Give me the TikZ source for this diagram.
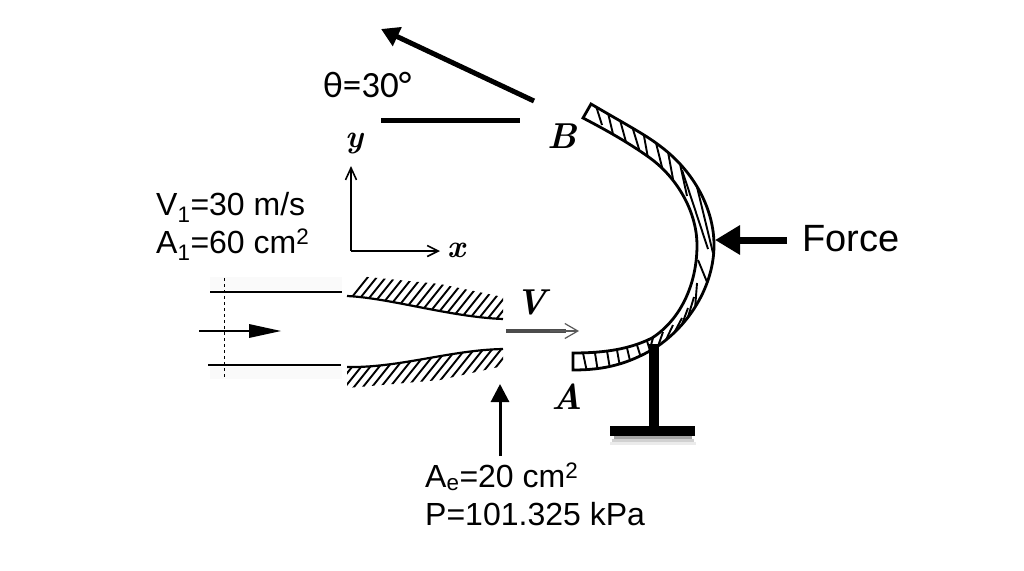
\documentclass[tikz,border=0pt]{standalone}
\usepackage{fontspec}
\setsansfont{Liberation Sans}
\newfontfamily\calfont{Carlito}
\usepackage{tikz}
\usetikzlibrary{arrows.meta}

\tikzset{
  given/.style={align=left,inner sep=0pt,anchor=west,font=\sffamily\fontsize{32}{38}\selectfont},
  letter/.style={inner sep=0pt,font=\bfseries\itshape\fontsize{36}{36}\selectfont},
  wall/.style={line width=2.2pt},
  hatch/.style={line width=1.9pt},
  blade/.style={line width=2.8pt}
}

\begin{document}
\begin{tikzpicture}[x=1pt,y=-1pt]
\useasboundingbox (0,0) rectangle (1024,570);
% soft shadows
\fill[black!2] (210,277) rectangle (342,290);
\fill[black!2] (210,367) rectangle (342,379);
\fill[black!35] (614,436) rectangle (692,439);
\fill[black!18] (612,439) rectangle (694,442);
\fill[black!8] (610,442) rectangle (696,445);

% blade
\def\bladepath{(591,104) .. controls (625,124) and (646,135) .. (660,146)
  .. controls (695,172) and (714,210) .. (714,245)
  .. controls (714,285) and (690,325) .. (655,348)
  .. controls (628,364) and (605,370) .. (573,370)
  -- (573,353)
  .. controls (605,353) and (630,349) .. (652,338)
  .. controls (680,320) and (697,285) .. (697,245)
  .. controls (697,215) and (680,180) .. (650,158)
  .. controls (632,145) and (610,132) .. (583,118) -- cycle}
\begin{scope}
\clip \bladepath;
\foreach \xa/\ya/\xb/\yb in {596/106/602/125,608/113/613/134,620/120/626/142,632/126/639/149,
  644/136/648/158,656/143/662/167,668/152/673/179,680/164/687/196,682/170/708/249,697/187/713/253,
  698/260/707/282,697/283/695/309,694/297/688/317,688/308/681/327,682/318/673/335,673/325/664/344,
  663/332/657/349,653/338/649/352,647/341/652/357,637/345/642/361,627/348/631/365,
  617/350/620/367,607/351/610/369,595/353/598/372,583/353/587/372}
  \draw[hatch] (\xa,\ya) -- (\xb,\yb);
\end{scope}
\draw[blade] \bladepath;

% nozzle walls
\begin{scope}
\clip (347,296) .. controls (390,298) and (450,317) .. (503,319) -- (503,297) -- (440,284) -- (347,275) -- cycle;
\foreach \t in {332,341,...,520}
  \draw[hatch] (\t,322) -- ++(40,-50);
\end{scope}
\begin{scope}
\clip (347,367) .. controls (400,368) and (450,350) .. (503,349) -- (503,366) -- (440,380) -- (347,388) -- cycle;
\foreach \t in {332,341,...,520}
  \draw[hatch] (\t,392) -- ++(40,-50);
\end{scope}
\draw[wall] (347,296) .. controls (390,298) and (450,317) .. (503,319);
\draw[wall] (347,367) .. controls (400,368) and (450,350) .. (503,349);
\draw[wall] (210,292) -- (342,292);
\draw[wall] (208,365) -- (341,365);
\draw[dashed,line width=0.7pt] (224,278) -- (224,377);
\draw[line width=1.2pt] (199,331) -- (250,331);
\fill (249,324) -- (281,331) -- (249,338) -- cycle;

% jet
\coordinate (jetstart) at (506,331);
\coordinate (jettip) at (579,331);
\draw[black!70,line width=3.5pt] (jetstart) -- (566,331);
\draw[black!65,line width=1.2pt,-{Straight Barb[length=13pt,width=15pt]}] (550,331) -- (jettip);

% axes
\coordinate (origin) at (351,251);
\coordinate (xtip) at (440,251);
\coordinate (ytip) at (351,166);
\draw[line width=1.6pt,-{Straight Barb[length=11pt,width=11pt]}] (origin) -- (xtip);
\draw[line width=1.6pt,-{Straight Barb[length=12pt,width=11pt]}] (origin) -- (ytip);
\node[letter,font=\bfseries\itshape\fontsize{32}{32}\selectfont] (ylabel) at (354,143) {y};
\node[letter,font=\bfseries\itshape\fontsize{32}{32}\selectfont] (xlabel) at (456,250) {x};

% letters
\node[letter] (Blabel) at (562,136) {B};
\node[letter] (Alabel) at (567,397) {A};
\node[letter] (Vlabel) at (531,302) {V};

% exit angle
\coordinate (exitB) at (534,101);
\coordinate (exitend) at (381,29);
\draw[line width=5pt,-{Triangle[length=18pt,width=20pt]}] (exitB) -- (exitend);
\draw[line width=5pt] (381,120) -- (520,120);
\node[inner sep=0pt,anchor=west,font=\calfont\fontsize{37}{37}\selectfont] (anglelabel) at (323,85) {θ=30°};

% force
\coordinate (forcestart) at (787,240);
\coordinate (forcetip) at (715,240);
\draw[line width=7pt,-{Triangle[length=25pt,width=28pt]}] (forcestart) -- (forcetip);
\node[given,font=\sffamily\fontsize{38}{38}\selectfont] (forcelabel) at (802,239) {Force};

% support
\draw[line width=10pt] (654,344) -- (654,431);
\draw[line width=10pt] (610,431) -- (695,431);

% pressure arrow
\coordinate (exitfoot) at (500,456);
\coordinate (exittip) at (500,384);
\draw[line width=3pt,-{Triangle[length=18pt,width=18pt]}] (exitfoot) -- (exittip);

% given data
\node[given] (inletdata) at (156,226) {V\textsubscript{1}=30 m/s\\A\textsubscript{1}=60 cm\textsuperscript{2}};
\node[given] (exitdata) at (425,494) {A\textsubscript{e}=20 cm\textsuperscript{2}\\P=101.325 kPa};
\end{tikzpicture}
\end{document}
